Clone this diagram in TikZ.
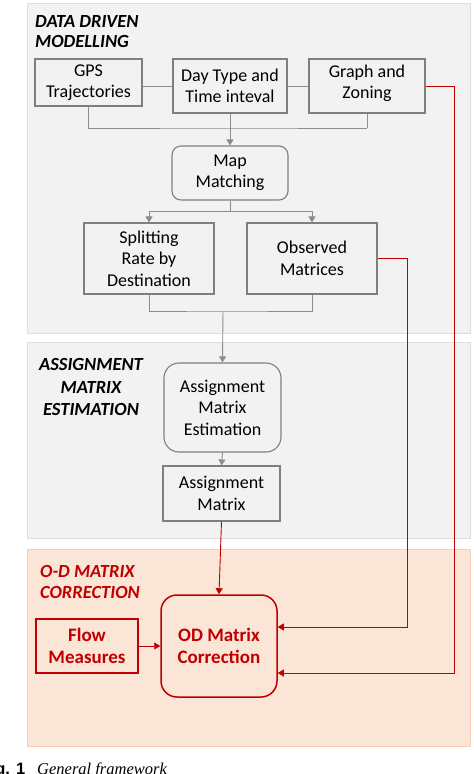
\documentclass[tikz,border=0pt]{standalone}
\usepackage{fontspec}
\setmainfont{Carlito}
\newfontfamily\capsans{Liberation Sans}
\newfontfamily\capserif{Liberation Serif}
\usetikzlibrary{arrows.meta}
\definecolor{panelgray}{HTML}{F2F2F2}
\definecolor{panelline}{HTML}{DEDEDE}
\definecolor{panelorange}{HTML}{FBE5D6}
\definecolor{panelorline}{HTML}{F6CFB5}
\definecolor{boxline}{HTML}{7F7F7F}
\definecolor{conline}{HTML}{8C8C8C}
\definecolor{odred}{HTML}{C00000}
\definecolor{bluegray}{HTML}{7F93B8}
\begin{document}
\begin{tikzpicture}[x=1pt,y=-1pt,
  panel/.style={fill=panelgray,draw=panelline,line width=0.8pt},
  orpanel/.style={fill=panelorange,draw=panelorline,line width=0.8pt},
  boxtext/.style={font=\fontsize{18}{21.5}\selectfont,align=center,inner sep=0pt},
  gbox/.style={boxtext,draw=boxline,line width=1.1pt,fill=panelgray},
  rbox/.style={gbox,rounded corners=9pt},
  redbox/.style={font=\bfseries\fontsize{19}{22}\selectfont,align=center,inner sep=0pt,draw=odred,line width=1.1pt,text=odred},
  ttl/.style={font=\bfseries\itshape\fontsize{18.5}{20}\selectfont,inner sep=0pt},
  con/.style={draw=conline,line width=0.9pt},
  conar/.style={con,-{Triangle[width=7pt,length=6pt]}},
  redcon/.style={draw=odred,line width=0.9pt},
  redar/.style={redcon,-{Triangle[width=7pt,length=6pt]}}
]
\useasboundingbox (0,0) rectangle (474,774);
\clip (0,0) rectangle (474,774);
\fill[white] (0,0) rectangle (474,774);
% panels
\path[panel] (27,3) rectangle (470,333);
\path[panel] (27,342) rectangle (470,538);
\path[orpanel] (27,549) rectangle (470,746);
% titles
\node[ttl,anchor=base west] (t1a) at (35,27) {DATA DRIVEN};
\node[ttl,anchor=base west] (t1b) at (35,47) {MODELLING};
\node[ttl,anchor=base] (t2a) at (91,370) {ASSIGNMENT};
\node[ttl,anchor=base] (t2b) at (91,393) {MATRIX};
\node[ttl,anchor=base] (t2c) at (91,415) {ESTIMATION};
\node[ttl,anchor=base west,text=odred] (t3a) at (40,577) {O-D MATRIX};
\node[ttl,anchor=base west,text=odred] (t3b) at (40,598) {CORRECTION};
% boxes
\node[gbox,minimum width=107pt,minimum height=47pt] (gps) at (88.5,82.5) {GPS\\Trajectories};
\node[gbox,minimum width=114pt,minimum height=54pt] (day) at (230,86) {Day Type and\\Time inteval};
\node[gbox,minimum width=116pt,minimum height=54pt] (graph) at (367,86) {Graph and\\Zoning\rule[-9pt]{0pt}{1pt}};
\node[rbox,minimum width=116pt,minimum height=54pt] (map) at (230,173) {Map\\Matching};
\node[gbox,minimum width=130pt,minimum height=71pt] (split) at (149,258.5) {Splitting\\Rate by\\Destination};
\node[gbox,minimum width=130pt,minimum height=71pt] (obs) at (312,258.5) {Observed\\Matrices};
\node[rbox,rounded corners=15pt,minimum width=117pt,minimum height=89pt] (ame) at (222.5,407.5) {Assignment\\Matrix\\Estimation};
\node[gbox,minimum width=117pt,minimum height=55pt] (am) at (221.5,493.5) {Assignment\\Matrix};
\node[redbox,minimum width=102pt,minimum height=54pt] (flow) at (87,646) {Flow\\Measures};
\node[redbox,rounded corners=16pt,line width=1.5pt,minimum width=116pt,minimum height=102pt] (od) at (219,646) {OD Matrix\\Correction};
% junction coordinates
\coordinate (j1) at (230,128);
\coordinate (j2) at (230,211);
\coordinate (j3) at (223,311);
\coordinate (r1) at (454,673);
\coordinate (r2) at (407,627);
% gray connectors
\draw[con] (gps.east |- day.west) -- (day.west);
\draw[con] (day.east) -- (graph.west);
\draw[con] (gps.south) |- (j1) -- (j1 -| graph.south);
\draw[draw=bluegray,line width=0.9pt] (j1 -| graph.south) -- (graph.south);
\draw[conar] (day.south) -- (map.north);
\draw[con] (map.south) -- (j2);
\draw[conar] (j2) -| (split.north);
\draw[conar] (j2) -| (obs.north);
\draw[con] (split.south) |- (j3) -| (obs.south);
\draw[conar] (j3) -- (ame.north);
\draw[conar] (ame.south) -- (am.north);
% red connectors
\draw[redar] (am.south) -- (od.north);
\draw[redar] (flow.east) -- (od.west);
\draw[redar] (graph.east |- day.east) -| (r1) -- (r1 -| od.east);
\draw[redar] (obs.east) -| (r2) -- (r2 -| od.east);
% caption
\node[font=\capsans\bfseries\fontsize{16.5}{18}\selectfont,anchor=base east,inner sep=0pt] (figno) at (25.5,774) {Fig. 1};
\node[font=\capserif\itshape\fontsize{16.5}{18}\selectfont,anchor=base west,inner sep=0pt] (figcap) at (37,774) {General framework};
\end{tikzpicture}
\end{document}
